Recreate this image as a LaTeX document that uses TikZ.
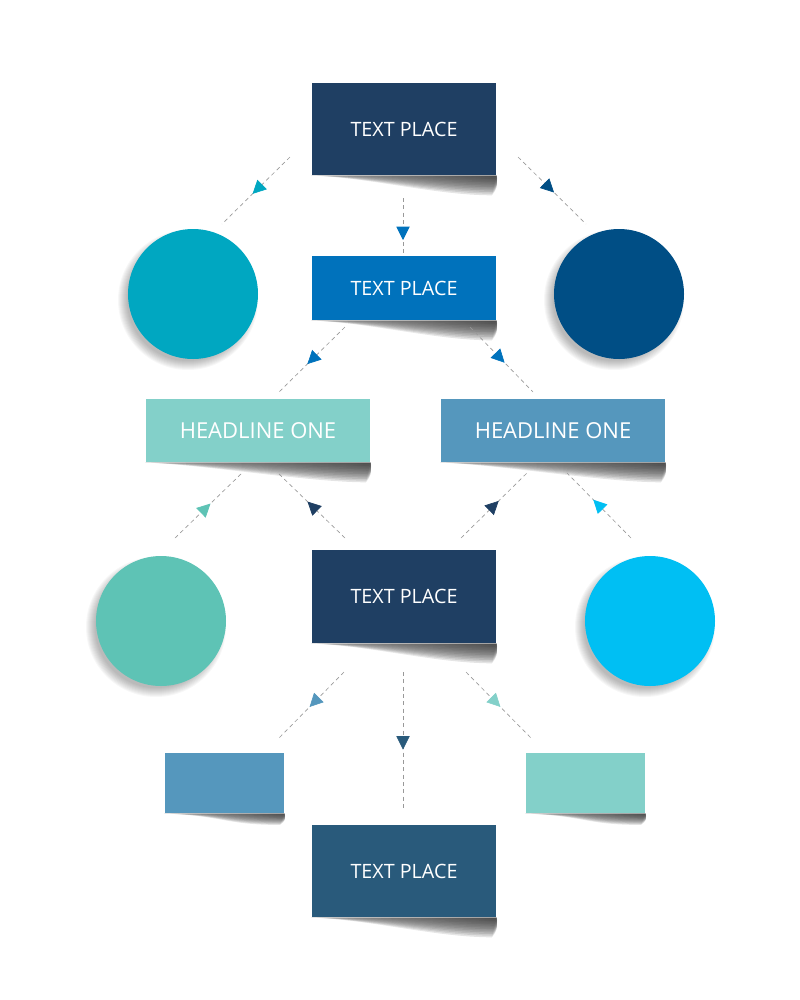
\documentclass[tikz,border=0pt]{standalone}
\usepackage{fontspec}
\setmainfont{Open Sans}
\usetikzlibrary{arrows.meta,decorations.markings,calc}

\definecolor{cNavy}{HTML}{1F3F63}
\definecolor{cBlue}{HTML}{0072BC}
\definecolor{cTeal}{HTML}{00A7C1}
\definecolor{cDeep}{HTML}{004E85}
\definecolor{cMint}{HTML}{83D0C9}
\definecolor{cSteel}{HTML}{5597BD}
\definecolor{cJade}{HTML}{5EC3B5}
\definecolor{cSky}{HTML}{00BFF3}
\definecolor{cSlate}{HTML}{295A7B}

\tikzset{every picture/.style={line width=0.75pt}}
\tikzset{
  panel/.style={rectangle, inner sep=0pt, text=white, font=\fontsize{14.8}{18}\selectfont},
  headline/.style={panel, minimum width=168pt, minimum height=47.25pt, font=\fontsize{16.5}{20}\selectfont},
  disc/.style={circle, inner sep=0pt, minimum size=97.5pt},
  link/.style 2 args={draw=gray!80, dash pattern=on 3pt off 2.5pt, line width=0.5pt,
    postaction={decorate}, decoration={markings, mark=at position #2 with {\arrow[color=#1]{Triangle[length=10pt,width=10pt]}}}},
  curlshade/.style={left color=white, right color=black!65, opacity=0.07},
}

% soft curled shadow under a box, optional depth step
\newcommand{\curl}[2][1.65]{%
  \foreach \k in {1,...,12}
    \fill[curlshade] (#2.south west) .. controls ($(#2.south west)+(60,0.2*\k)$) and ($(#2.south east)+(-60,#1*\k)$) .. ($(#2.south east)+(-1-0.3*\k,#1*\k)$) .. controls ($(#2.south east)+(1,0.6*#1*\k)$) .. (#2.south east) -- cycle;}

\begin{document}
\begin{tikzpicture}[x=0.75pt,y=0.75pt,yscale=-1,xscale=1]
	\useasboundingbox (0,0) rectangle (800,1000);

	%Shadows of the circles
	\foreach \cx/\cy in {193/294,619/294,161/621,650/621}
	  \foreach \s in {0,...,9}
	    \fill[black,opacity=0.03] (\cx-5,\cy+6) circle (61+\s);

	%Shape: Circle
	\node[disc, fill=cTeal] (tealdisc) at (193,294) {};
	\node[disc, fill=cDeep] (deepdisc) at (619,294) {};
	\node[disc, fill=cJade] (jadedisc) at (161,621) {};
	\node[disc, fill=cSky] (skydisc) at (650,621) {};

	%Shape: Rectangle
	\node[panel, fill=cNavy, minimum width=138pt, minimum height=69pt] (top) at (404,129) {TEXT PLACE};
	\curl{top}
	\node[panel, fill=cBlue, minimum width=138pt, minimum height=48pt] (second) at (404,288) {TEXT PLACE};
	\curl{second}
	\node[headline, fill=cMint] (headleft) at (258,430.5) {HEADLINE ONE};
	\curl{headleft}
	\node[headline, fill=cSteel] (headright) at (553,430.5) {HEADLINE ONE};
	\curl{headright}
	\node[panel, fill=cNavy, minimum width=138pt, minimum height=69.75pt] (middle) at (404,596.5) {TEXT PLACE};
	\curl{middle}
	\node[panel, fill=cSteel, minimum width=89.25pt, minimum height=45pt] (smallleft) at (224.5,783) {};
	\curl[0.95]{smallleft}
	\node[panel, fill=cMint, minimum width=89.25pt, minimum height=45pt] (smallright) at (585.5,783) {};
	\curl[0.95]{smallright}
	\node[panel, fill=cSlate, minimum width=138pt, minimum height=69pt] (bottom) at (404,871) {TEXT PLACE};
	\curl{bottom}

	%Connector ends
	\coordinate (a1) at (290,157);  \coordinate (b1) at (222,224);
	\coordinate (a2) at (403,198);  \coordinate (b2) at (403,254);
	\coordinate (a3) at (518,157);  \coordinate (b3) at (586,224);
	\coordinate (a4) at (345,327);  \coordinate (b4) at (279,392);
	\coordinate (a5) at (470,327);  \coordinate (b5) at (533,392);
	\coordinate (a6) at (175,538);  \coordinate (b6) at (242,473);
	\coordinate (a7) at (345,538);  \coordinate (b7) at (278,473);
	\coordinate (a8) at (461,538);  \coordinate (b8) at (527,473);
	\coordinate (a9) at (631,538);  \coordinate (b9) at (567,473);
	\coordinate (a10) at (344,672); \coordinate (b10) at (279,738);
	\coordinate (a11) at (403,672); \coordinate (b11) at (403,808);
	\coordinate (a12) at (466,672); \coordinate (b12) at (531,738);

	%Straight Lines
	\draw[link={cTeal}{0.55}] (a1) -- (b1);
	\draw[link={cBlue}{0.75}] (a2) -- (b2);
	\draw[link={cDeep}{0.53}] (a3) -- (b3);
	\draw[link={cBlue}{0.57}] (a4) -- (b4);
	\draw[link={cBlue}{0.55}] (a5) -- (b5);
	\draw[link={cJade}{0.53}] (a6) -- (b6);
	\draw[link={cNavy}{0.56}] (a7) -- (b7);
	\draw[link={cNavy}{0.57}] (a8) -- (b8);
	\draw[link={cSky}{0.59}] (a9) -- (b9);
	\draw[link={cSteel}{0.53}] (a10) -- (b10);
	\draw[link={cSlate}{0.57}] (a11) -- (b11);
	\draw[link={cMint}{0.53}] (a12) -- (b12);

\end{tikzpicture}
\end{document}
